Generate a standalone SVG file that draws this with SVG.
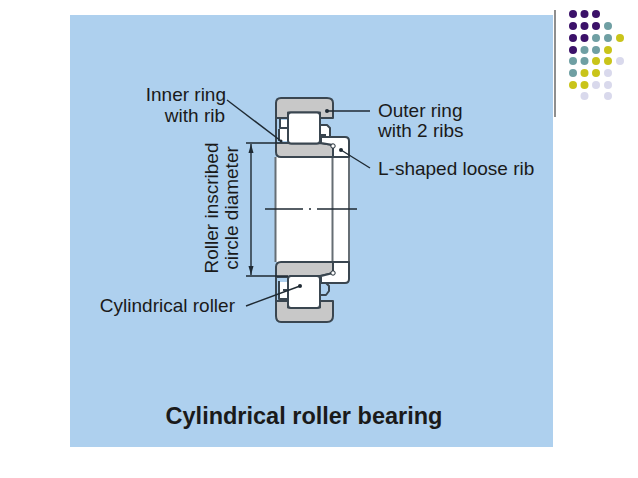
<svg xmlns="http://www.w3.org/2000/svg" width="638" height="478" viewBox="0 0 638 478">
<style>
.t{font-family:"Liberation Sans",Arial,sans-serif;font-size:19px;fill:#1a1a1a}
.s{stroke:#3a4650;stroke-width:2;stroke-linejoin:round;fill:none}
.g{fill:#c8c8c8;stroke:#3a4650;stroke-width:2;stroke-linejoin:round}
.w{fill:#fff;stroke:#3a4650;stroke-width:2;stroke-linejoin:round}
.l{stroke:#1f2a33;stroke-width:1.4;fill:none}
.d{fill:#1f2a33}
.p{fill:#3b1169}.e{fill:#6f9fa3}.y{fill:#c9c41a}.v{fill:#d9d9ec}
</style>
<defs>
<marker id="a" markerUnits="userSpaceOnUse" markerWidth="10" markerHeight="8" refX="9" refY="3" orient="auto-start-reverse"><path d="M0 0.500L9 3L0 5.500Z" fill="#1f2a33"/></marker>
</defs>
<rect width="638" height="478" fill="#fff"/>
<rect x="70" y="15" width="483" height="432" fill="#aed0ee"/>
<line x1="555" y1="10" x2="555" y2="117" stroke="#444" stroke-width="1.2"/>
<g id="dots">
<circle class="p" cx="573" cy="14" r="4"/><circle class="p" cx="584.500" cy="14" r="4"/><circle class="p" cx="596" cy="14" r="4"/>
<circle class="p" cx="573" cy="26" r="4"/><circle class="p" cx="584.500" cy="26" r="4"/><circle class="p" cx="596" cy="26" r="4"/><circle class="e" cx="608" cy="26" r="4"/>
<circle class="p" cx="573" cy="38" r="4"/><circle class="p" cx="584.500" cy="38" r="4"/><circle class="e" cx="596" cy="38" r="4"/><circle class="e" cx="608" cy="38" r="4"/><circle class="y" cx="620" cy="38" r="4"/>
<circle class="p" cx="573" cy="50" r="4"/><circle class="e" cx="584.500" cy="50" r="4"/><circle class="e" cx="596" cy="50" r="4"/><circle class="y" cx="608" cy="50" r="4"/>
<circle class="e" cx="573" cy="61" r="4"/><circle class="e" cx="584.500" cy="61" r="4"/><circle class="y" cx="596" cy="61" r="4"/><circle class="y" cx="608" cy="61" r="4"/><circle class="v" cx="620" cy="61" r="4"/>
<circle class="e" cx="573" cy="73" r="4"/><circle class="y" cx="584.500" cy="73" r="4"/><circle class="y" cx="596" cy="73" r="4"/><circle class="v" cx="608" cy="73" r="4"/>
<circle class="y" cx="573" cy="85" r="4"/><circle class="y" cx="584.500" cy="85" r="4"/><circle class="v" cx="596" cy="85" r="4"/><circle class="v" cx="608" cy="85" r="4"/>
<circle class="v" cx="584.500" cy="96" r="4"/><circle class="v" cx="608" cy="96" r="4"/>
</g>
<g id="bore">
<rect x="275.500" y="157" width="73.500" height="105" fill="#fff"/>
<path d="M275.500 157V262M332.500 157V262M349 157V262" fill="none" stroke="#666e74" stroke-width="2"/>
</g>
<g id="bearing-top">
<path class="g" d="M281 98H327Q333 98 333 103V118H320V112.500H288V118H276V103Q276 98 281 98Z"/>
<path class="s" d="M276 118V143"/>
<path d="M279 120H287V128H279ZM279 129H287V141H279Z" fill="#fff"/>
<path class="s" d="M280 118V128H287M279 129V141"/>
<path d="M320 126H330V137H320Z" fill="#fff"/>
<path class="s" d="M320 125H327L330 128V137M320 135H326"/>
<path class="g" d="M276 143H288L292 143.500H316L320 143L333 145V157H281Q276 157 276 152Z"/>
<path class="w" d="M321 137H345Q349 137 349 141V157H333V145L321 143Z"/>
<rect class="w" x="288" y="112.500" width="32" height="31" rx="3"/>
</g>
<g id="bearing-bottom">
<path class="g" d="M281 262H333V273L320 276L316 276H292L288 277H276V267Q276 262 281 262Z"/>
<path class="w" d="M333 262H349V279Q349 283 345 283H321V276L333 273Z"/>
<path class="g" d="M276 301H288V307.500H320V301H333V316Q333 322 327 322H281Q276 322 276 316Z"/>
<path class="s" d="M276 277V301"/>
<path d="M279 282H288V299H279Z" fill="#fff"/>
<path class="s" d="M279 281V299H288M283 290H288M320 283H326L329 286V291L326 295H320"/>
<rect class="w" x="288" y="276" width="32" height="32" rx="3"/>
</g>
<g id="connectors">
<path class="l" d="M227 100L281 141"/><circle class="d" cx="281" cy="141" r="1.500"/>
<path class="l" d="M370 111H327"/><circle class="d" cx="327" cy="111" r="2"/>
<path class="l" d="M370 168L341 150"/><circle class="d" cx="341" cy="150" r="2"/>
<circle cx="333" cy="146" r="2.200" fill="#fff" stroke="#1f2a33"/>
<circle cx="333" cy="273" r="2.200" fill="#fff" stroke="#1f2a33"/>
<path class="l" d="M246 306L300 286"/><circle class="d" cx="300" cy="286" r="2"/>
<path class="l" d="M246 143H277M246 276H288"/>
<path class="l" d="M251 144V275" marker-start="url(#a)" marker-end="url(#a)"/>
<path class="l" d="M265 209H303M309 209H311M317 209H357"/>
</g>
<g id="labels">
<text class="t" x="226" y="101" text-anchor="end">Inner ring</text>
<text class="t" x="225" y="122" text-anchor="end">with rib</text>
<text class="t" x="378" y="117">Outer ring</text>
<text class="t" x="378" y="137">with 2 ribs</text>
<text class="t" x="378" y="175">L-shaped loose rib</text>
<text class="t" x="235" y="312" text-anchor="end">Cylindrical roller</text>
<text class="t" text-anchor="middle" transform="translate(218 208) rotate(-90)">Roller inscribed</text>
<text class="t" text-anchor="middle" transform="translate(238 208) rotate(-90)">circle diameter</text>
<text x="304" y="424" text-anchor="middle" style="font-family:'Liberation Sans',Arial,sans-serif;font-size:23.500px;font-weight:bold;fill:#1a1a1a">Cylindrical roller bearing</text>
</g>
</svg>
